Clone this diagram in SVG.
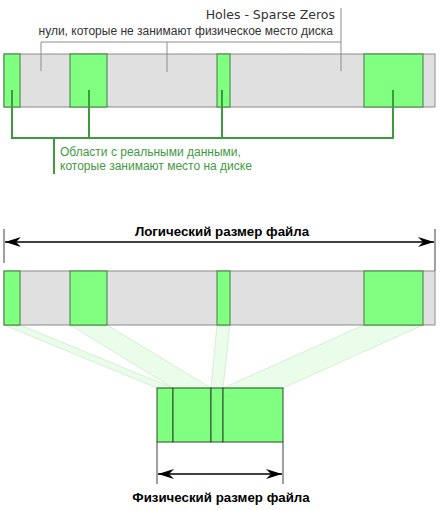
<svg xmlns="http://www.w3.org/2000/svg" width="443" height="510" viewBox="0 0 443 510">
<style>
.bar{fill:#e0e0e0;stroke:#8c8c8c;stroke-width:1}
.blk{fill:#80ff80;stroke:#3f7f3f;stroke-width:1}
.pblk{fill:#80ff80;stroke:#2a4a2a;stroke-width:1}
.gl{stroke:#3f9a3f;stroke-width:2;fill:none}
.hl{stroke:#8c8c8c;stroke-width:1;fill:none}
.dim{stroke:#000;stroke-width:1.3;fill:none}
.tick{stroke:#808080;stroke-width:1.5;fill:none}
.fan{fill:#eafcea;stroke:#d6efd6;stroke-width:1}
.t{font-family:"Liberation Sans",Arial,sans-serif;font-size:12px}
.b{font-family:"Liberation Sans",Arial,sans-serif;font-size:13.3px;font-weight:bold;fill:#000}
</style>
<defs>
<marker id="ah" viewBox="0 0 16 10" refX="16" refY="5" markerWidth="16" markerHeight="10" markerUnits="userSpaceOnUse" orient="auto-start-reverse">
<path d="M0,0 L16,5 L0,10 L5,5 Z" fill="#000"/>
</marker>
</defs>

<g id="topbar">
<rect class="bar" x="4" y="54" width="431" height="53"/>
<rect class="blk" x="4" y="54" width="16" height="53"/>
<rect class="blk" x="70" y="54" width="37" height="53"/>
<rect class="blk" x="217" y="54" width="13" height="53"/>
<rect class="blk" x="364" y="54" width="59" height="53"/>
</g>

<g id="holes-label">
<text x="335" y="19" text-anchor="end" font-family="'DejaVu Sans',sans-serif" font-size="12.5" fill="#333">Holes - Sparse Zeros</text>
<text class="t" x="333" y="35" text-anchor="end" fill="#333">нули, которые не занимают физическое место диска</text>
</g>

<g id="data-label">
<text class="t" x="60" y="156" fill="#3f9a3f">Области с реальными данными,</text>
<text class="t" x="60" y="170" fill="#3f9a3f">которые занимают место на диске</text>
</g>

<g id="connectors">
<path class="hl" d="M41,71 V42 H341 M167,42 V72 M341,8 V71"/>
<path class="gl" d="M12,90 V138 M89,90 V138 M222,90 V138 M393,90 V138 M11,138 H394 M54,138 V174"/>
<path class="tick" d="M4,229 V263 M435,229 V271"/>
<line class="dim" x1="5" y1="242" x2="434" y2="242" marker-start="url(#ah)" marker-end="url(#ah)"/>
<g id="fans">
<polygon class="fan" points="4,325 20,325 173,388 157,388"/>
<polygon class="fan" points="70,325 107,325 211,388 173,388"/>
<polygon class="fan" points="217,325 230,325 223,388 211,388"/>
<polygon class="fan" points="364,325 423,325 283,388 223,388"/>
</g>
<path class="tick" d="M157,442 V484 M283,442 V484"/>
<line class="dim" x1="158" y1="474" x2="282" y2="474" marker-start="url(#ah)" marker-end="url(#ah)"/>
</g>

<g id="logical-label">
<text class="b" x="222" y="236" text-anchor="middle">Логический размер файла</text>
</g>

<g id="logicalbar">
<rect class="bar" x="4" y="271" width="431" height="54"/>
<rect class="blk" x="4" y="271" width="16" height="54"/>
<rect class="blk" x="70" y="271" width="37" height="54"/>
<rect class="blk" x="217" y="271" width="13" height="54"/>
<rect class="blk" x="364" y="271" width="59" height="54"/>
</g>

<g id="physicalbar">
<rect class="pblk" x="157" y="388" width="16" height="54"/>
<rect class="pblk" x="173" y="388" width="38" height="54"/>
<rect class="pblk" x="211" y="388" width="12" height="54"/>
<rect class="pblk" x="223" y="388" width="60" height="54"/>
</g>

<g id="physical-label">
<text class="b" x="221" y="502" text-anchor="middle">Физический размер файла</text>
</g>
</svg>
